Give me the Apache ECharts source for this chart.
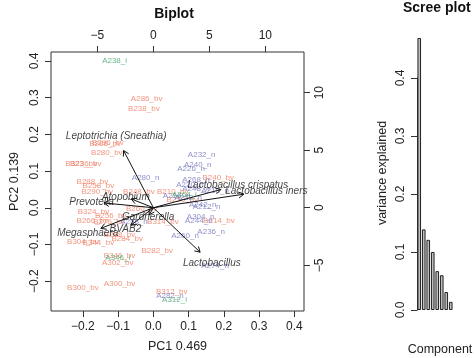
<!DOCTYPE html>
<html><head><meta charset="utf-8">
<script src="https://cdn.jsdelivr.net/npm/echarts@6/dist/echarts.min.js"></script>
<style>html,body{margin:0;padding:0;background:#fff}#c{width:474px;height:358px}</style>
</head><body><div id="c"></div>
<script>
// ---- tick labels ----
const xTicks = [-0.2, -0.1, 0.0, 0.1, 0.2, 0.3, 0.4];
const yTicks = [-0.2, -0.1, 0.0, 0.1, 0.2, 0.3, 0.4];
const loadTicks = [-5, 0, 5, 10];
const screeTicks = [0.0, 0.1, 0.2, 0.3, 0.4];

// ---- scree plot ----
const components = ['1', '2', '3', '4', '5', '6', '7', '8'];
const variance = [0.469, 0.139, 0.121, 0.100, 0.067, 0.060, 0.031, 0.014];

// ---- sample scores (PC1, PC2) ----
const bvNames = ['A286_bv','B238_bv','B286_bv','B296_bv','B280_bv','B323_bv','B236_bv','B288_bv','B258_bv','B290_bv','B248_bv','B324_bv','B256_bv','B266_bv','B276_bv','B260_bv','B314_bv','B304_bv','B344_bv','B298_bv','B284_bv','B282_bv','B346_bv','A302_bv','B300_bv','A300_bv','B312_bv','B240_bv','B210_bv','B230_bv','B214_bv'];
const bvX = [-0.019,-0.027,-0.137,-0.129,-0.132,-0.205,-0.192,-0.173,-0.156,-0.159,-0.041,-0.170,-0.121,-0.173,-0.126,-0.033,0.027,-0.200,-0.156,-0.096,-0.074,0.011,-0.096,-0.101,-0.200,-0.096,0.052,0.184,0.055,0.082,0.186];
const bvY = [0.297,0.270,0.173,0.178,0.149,0.119,0.119,0.070,0.059,0.043,0.043,-0.011,-0.022,-0.035,-0.038,-0.003,-0.038,-0.092,-0.095,-0.073,-0.084,-0.116,-0.130,-0.149,-0.219,-0.208,-0.230,0.081,0.043,0.022,-0.035];

const nNames = ['A232_n','A240_n','A226_n','A280_n','A268_n','A220_n','A248_n','A218_n','A216_n','A252_n','A242_n','A212_n','A304_n','A244_n','A236_n','A260_n','A258_n','A274_n','A282_n'];
const nX = [0.137,0.126,0.107,-0.022,0.121,0.104,0.121,0.175,0.066,0.099,0.140,0.151,0.134,0.129,0.164,0.090,-0.055,0.175,0.047];
const nY = [0.143,0.116,0.105,0.081,0.076,0.062,0.051,0.046,0.032,0.027,0.008,0.003,-0.024,-0.035,-0.065,-0.076,-0.038,-0.159,-0.241];

const iNames = ['A238_i','A346_i','A312_i','A264_i'];
const iX = [-0.110,-0.101,0.060,0.088];
const iY = [0.400,-0.135,-0.251,0.035];

// ---- variable loadings ----
const varNames = ['Leptotrichia (Sneathia)','Lactobacillus crispatus','Lactobacillus iners','Atopobium','Prevotella','Gardnerella','Megasphaera','BVAB2','Lactobacillus'];
const varX = [-3.32, 7.54, 10.09, -2.46, -5.52, -0.47, -5.86, -2.50, 5.22];
const varY = [6.21, 1.98, 1.47, 0.95, 0.52, -0.78, -2.24, -1.90, -4.83];

const FONT = 'Liberation Sans, Arial, Helvetica, sans-serif';
const TXT = '#222';
const fmt1 = v => (v < -1e-9 ? '\u2212' : '') + Math.abs(v).toFixed(1);
const fmt0 = v => (v < 0 ? '\u2212' : '') + Math.abs(v);

function tickAxis(extra, ticks, fmt, rotate) {
  return Object.assign({
    type: 'value',
    axisLine: { show: false, onZero: false },
    splitLine: { show: false },
    axisTick: { show: true, length: 6, customValues: ticks, lineStyle: { color: '#333', width: 1 } },
    axisLabel: { show: true, customValues: ticks, formatter: fmt, margin: 10, rotate: rotate || 0,
      color: TXT, fontSize: 12, fontFamily: FONT }
  }, extra);
}

function labelSeries(names, xs, ys, color, size, italic, xi, yi, z) {
  return {
    type: 'scatter', xAxisIndex: xi, yAxisIndex: yi, z: z, silent: true,
    symbol: 'circle', symbolSize: 1, itemStyle: { color: 'rgba(0,0,0,0)' },
    data: names.map((n, k) => ({ name: n, value: [xs[k], ys[k]] })),
    label: { show: true, position: 'inside', formatter: p => p.name, color: color,
      fontSize: size, fontStyle: italic ? 'italic' : 'normal', fontFamily: FONT },
    labelLayout: { hideOverlap: false },
    clip: false
  };
}

const chart = echarts.init(document.getElementById('c'), null, { renderer: 'canvas' });
chart.setOption({
  animation: false,
  backgroundColor: '#fff',
  grid: [
    { left: 42, right: 170, top: 52, bottom: 45, show: true, borderColor: '#333', borderWidth: 1, backgroundColor: 'transparent' },
    { left: 417, right: 21, top: 78, bottom: 48, show: false }
  ],
  xAxis: [
    tickAxis({ gridIndex: 0, position: 'bottom', min: -0.2904, max: 0.4274,
      name: 'PC1 0.469', nameLocation: 'middle', nameGap: 29,
      nameTextStyle: { color: TXT, fontSize: 12.5, fontFamily: FONT } }, xTicks, fmt1),
    tickAxis({ gridIndex: 0, position: 'top', min: -9.14, max: 13.45 }, loadTicks, fmt0),
    { type: 'category', gridIndex: 1, data: components, axisLine: { show: false, onZero: false }, axisTick: { show: false },
      axisLabel: { show: false }, splitLine: { show: false } }
  ],
  yAxis: [
    tickAxis({ gridIndex: 0, position: 'left', min: -0.2811, max: 0.4243,
      name: 'PC2 0.139', nameLocation: 'middle', nameGap: 30,
      nameTextStyle: { color: TXT, fontSize: 12.5, fontFamily: FONT } }, yTicks, fmt1, 90),
    tickAxis({ gridIndex: 0, position: 'right', min: -8.97, max: 13.53 }, loadTicks, fmt0, 90),
    Object.assign(tickAxis({ gridIndex: 1, position: 'left', min: 0, max: 0.4 }, screeTicks, fmt1, 90),
      { axisLine: { show: true, onZero: false, lineStyle: { color: '#333', width: 1 } } })
  ],
  graphic: [
    { type: 'text', x: 174, y: 14, style: { text: 'Biplot', font: 'bold 14px ' + FONT, fill: '#111', textAlign: 'center', textVerticalAlign: 'middle' } },
    { type: 'text', x: 403, y: 8, style: { text: 'Scree plot', font: 'bold 14px ' + FONT, fill: '#111', textAlign: 'left', textVerticalAlign: 'middle' } },
    { type: 'text', x: 383, y: 173, rotation: Math.PI / 2, style: { text: 'variance explained', font: '12.5px ' + FONT, fill: TXT, textAlign: 'center', textVerticalAlign: 'middle' } },
    { type: 'text', x: 440, y: 350, style: { text: 'Component', font: '12.5px ' + FONT, fill: TXT, textAlign: 'center', textVerticalAlign: 'middle' } }
  ],
  series: [
    labelSeries(bvNames, bvX, bvY, '#EF7A5F', 8, false, 0, 0, 2),
    labelSeries(nNames, nX, nY, '#7376BF', 8, false, 0, 0, 2),
    labelSeries(iNames, iX, iY, '#3FA66A', 8, false, 0, 0, 2),
    {
      type: 'custom', xAxisIndex: 1, yAxisIndex: 1, z: 5, silent: true, clip: false,
      data: varNames.map((n, k) => [varX[k], varY[k]]),
      renderItem: function (params, api) {
        const o = api.coord([0, 0]);
        const t = api.coord([api.value(0) * 0.8, api.value(1) * 0.8]);
        const a = Math.atan2(t[1] - o[1], t[0] - o[0]);
        const L = 6, h = Math.PI / 6;
        const p1 = [t[0] - L * Math.cos(a - h), t[1] - L * Math.sin(a - h)];
        const p2 = [t[0] - L * Math.cos(a + h), t[1] - L * Math.sin(a + h)];
        return { type: 'group', children: [
          { type: 'line', shape: { x1: o[0], y1: o[1], x2: t[0], y2: t[1] }, style: { stroke: '#111', lineWidth: 1 } },
          { type: 'polyline', shape: { points: [p1, t, p2] }, style: { stroke: '#111', lineWidth: 1, fill: null } }
        ] };
      }
    },
    labelSeries(varNames, varX, varY, '#111', 10, true, 1, 1, 6),
    {
      type: 'bar', xAxisIndex: 2, yAxisIndex: 2, data: variance, barWidth: '80%', clip: false, silent: true,
      itemStyle: { color: '#bebebe', borderColor: '#222', borderWidth: 1 }
    }
  ]
});
</script>
</body></html>
